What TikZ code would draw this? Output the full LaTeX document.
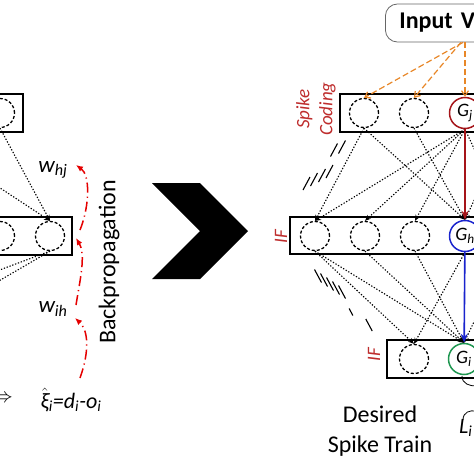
\documentclass[tikz,border=0pt]{standalone}
\usepackage{amsmath}
\usepackage{fontspec}
\setmainfont{Carlito}
\usetikzlibrary{arrows.meta}
\definecolor{spikered}{RGB}{190,45,45}
\definecolor{gjred}{RGB}{165,20,25}
\definecolor{ghblue}{RGB}{25,35,205}
\definecolor{gigreen}{RGB}{30,150,80}
\definecolor{codeorange}{RGB}{232,135,40}
\newcommand{\spikemark}[2]{%
  \draw[spikemk] (#1,#2) ++(-3.5,6.5) -- ++(7,-13);%
}
\newcommand{\spikemarkb}[3]{%
  \draw[spikemk] (#1,#2) ++(-#3*0.27,-#3*0.5) -- ++(#3*0.54,#3);%
}

\begin{document}
\begin{tikzpicture}[x=1pt,y=-1pt,
  layer/.style={draw, line width=1.6pt},
  unit/.style={circle, draw, line width=1.3pt, dash pattern=on 3pt off 2pt, minimum size=29pt, inner sep=0pt},
  gunit/.style={circle, draw, line width=1.5pt, minimum size=31pt, inner sep=0pt, font=\itshape\fontsize{19}{19}\selectfont},
  wire/.style={line width=1.1pt, dash pattern=on 1.3pt off 1.7pt},
  conn/.style={wire, -{Stealth[length=6pt,width=5pt]}},
  code/.style={codeorange, dash pattern=on 6pt off 3pt, line width=1.2pt, -{Straight Barb[length=5pt,width=7pt]}},
  bp/.style={red!90!black, line width=1.5pt, dash pattern=on 10pt off 4pt on 1.2pt off 4pt, -{Latex[length=7pt,width=6pt]}},
  lbl/.style={font=\itshape\fontsize{19}{23}\selectfont, text=spikered},
  spikemk/.style={line width=1.1pt}]
  \useasboundingbox (0,0) rectangle (474,474);
  \clip (0,0) rectangle (474,474);
  % left panel (cut off)
  \draw[layer] (-60,94) rectangle (23,132);
  \draw[layer] (-100,217) rectangle (72,255);
  \node[unit] (l1) at (0,113) {};
  \node[unit] (l2) at (0,236) {};
  \node[unit] (l3) at (50,236) {};
  \coordinate (lo1) at (-47,157);
  \coordinate (lo2) at (-94,305);
  \coordinate (lo3) at (-94,335);
  \draw[conn] (l1.south) -- (l3.north);
  \draw[conn] (lo1) -- (l3.north);
  \draw[wire] (l3.south) -- (lo2);
  \draw[wire] (l3.south) -- (lo3);
  \node[font=\itshape\fontsize{23}{23}\selectfont] (whj) at (53,170) {w\textsubscript{hj}};
  \node[font=\itshape\fontsize{23}{23}\selectfont] (wih) at (53,309) {w\textsubscript{ih}};
  \draw[bp] (80,378) .. controls (90,350) and (88,330) .. (75,318);
  \draw[bp] (76,305) .. controls (80,280) and (86,255) .. (76,238);
  \draw[bp] (80,230) .. controls (90,205) and (90,175) .. (76,165);
  \node[rotate=90, font=\fontsize{24}{24}\selectfont] (bptxt) at (109,262) {Backpropagation};
  \node[anchor=east, inner sep=0pt, font=\fontsize{22}{22}\selectfont] (impl) at (13,399) {$\Rightarrow$};
  \node[inner sep=0pt, font=\itshape\fontsize{22}{22}\selectfont] (err) at (71,400) {$\hat{\text{\itshape ξ}}$\textsubscript{i}=d\textsubscript{i}-o\textsubscript{i}};
  % chevron
  \fill (152,183) -- (200,183) -- (248,231) -- (200,279) -- (152,279) -- (200,231) -- cycle;
  % right panel
  \node[draw=black!60, line width=0.8pt, rounded corners=12pt, anchor=west, minimum height=38pt,
    text width=100pt, inner xsep=14pt, align=left, font=\bfseries\fontsize{24}{24}\selectfont] (inp) at (385,23) {Input V};
  \draw[layer] (340,94) rectangle (520,132);
  \draw[layer] (290,217) rectangle (520,254);
  \draw[layer] (387,340) rectangle (520,378);
  \node[unit] (t1) at (364,113) {};
  \node[unit] (t2) at (414,113) {};
  \node[gunit, draw=gjred] (gj) at (465,113) {G\textsubscript{j}};
  \node[unit] (m1) at (315,236) {};
  \node[unit] (m2) at (365,236) {};
  \node[unit] (m3) at (415,236) {};
  \node[gunit, draw=ghblue] (gh) at (465,236) {G\textsubscript{h}};
  \node[unit] (b1) at (414,359) {};
  \node[gunit, draw=gigreen] (gi) at (464,359) {G\textsubscript{i}};
  \coordinate (t4) at (515,113);
  \coordinate (m5) at (515,236);
  % input coding
  \draw[code] (inp.south west) ++(78,0) -- (t1.north);
  \draw[code] (inp.south west) ++(76,0) -- (t2.north);
  \draw[code] (inp.south west) ++(80,0) -- (gj.north);
  % input to hidden
  \draw[conn] (t1.south) -- (m1.north);
  \draw[conn] (t1.south) -- (gh.north);
  \draw[conn] (t2.south) -- (gh.north);
  \draw[conn] (gj.south) -- (m1.north);
  \draw[conn] (gj.south) -- (m2.north);
  \draw[conn] (gj.south) -- (m3.north);
  \draw[conn] (gj.south) -- (m5);
  \draw[conn] (t4) -- (gh.north);
  % hidden to output
  \draw[conn] (m1.south) -- (b1.north);
  \draw[conn] (m1.south) -- (gi.north);
  \draw[conn] (m2.south) -- (gi.north);
  \draw[conn] (m3.south) -- (gi.north);
  \draw[conn] (gh.south) -- (b1.north);
  \draw[conn] (m5) -- (gi.north);
  \draw[gjred, line width=1.6pt, -{Stealth[length=9pt,width=7pt]}] (gj) -- (gh);
  \draw[ghblue, line width=1.6pt, -{Stealth[length=9pt,width=7pt]}] (gh) -- (gi);
  % spike trains
  \foreach \x/\y in {334/150,342/147,329.5/171.5,322/175.5,314/179.5,306.5/183.5}
    \spikemark{\x}{\y};
  \foreach \x/\y/\l in {318/276/13,324/280/13,330/284/13,336/288/13,342/292/13,351/312/7,369/325/12}
    \spikemarkb{\x}{\y}{\l};
  \node[lbl, rotate=90, align=center] (sc) at (316,109) {Spike\\Coding};
  \node[lbl, rotate=90] (if1) at (281,237) {IF};
  \node[lbl, rotate=90] (if2) at (374,355) {IF};
  \node[align=center, font=\fontsize{24}{30}\selectfont] (dst) at (380,431) {Desired\\Spike Train};
  \node[font=\itshape\fontsize{22}{22}\selectfont, anchor=west, inner sep=0pt] (li) at (459,428) {L\textsubscript{i}};
  \draw[line width=0.8pt] (462,376) .. controls (462,384) and (470,386) .. (476,386);
  \draw[line width=0.8pt] (463,420) .. controls (463,412) and (470,410) .. (476,411);
\end{tikzpicture}
\end{document}
